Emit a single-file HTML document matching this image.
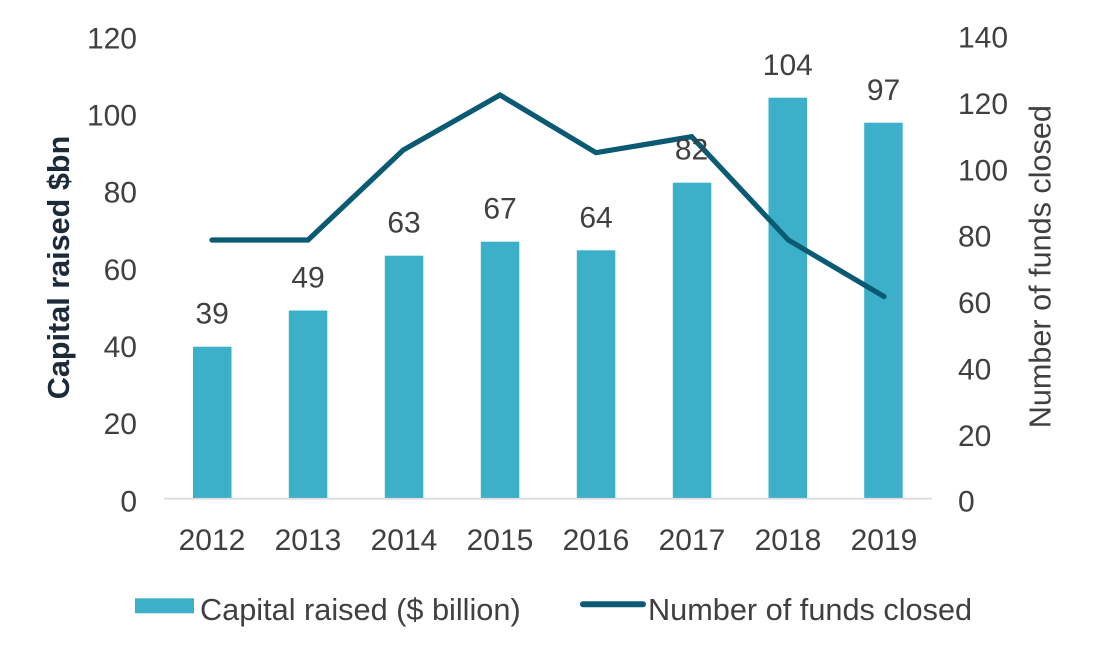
<!DOCTYPE html>
<html>
<head>
<meta charset="utf-8">
<style>
  html,body{margin:0;padding:0;background:#ffffff;}
  svg{display:block;}
  text{font-family:"Liberation Sans", Arial, sans-serif;}
</style>
</head>
<body>
<svg width="1093" height="648" viewBox="0 0 1093 648" xmlns="http://www.w3.org/2000/svg">
  <rect x="0" y="0" width="1093" height="648" fill="#ffffff"/>

  <!-- Left axis tick labels -->
  <g font-size="30" fill="#404040" text-anchor="end">
    <text x="137" y="48.5">120</text>
    <text x="137" y="125.6">100</text>
    <text x="137" y="202.7">80</text>
    <text x="137" y="279.8">60</text>
    <text x="137" y="356.9">40</text>
    <text x="137" y="434">20</text>
    <text x="137" y="511.5">0</text>
  </g>

  <!-- Right axis tick labels -->
  <g font-size="30" fill="#404040" text-anchor="start">
    <text x="958" y="47.5">140</text>
    <text x="958" y="113.9">120</text>
    <text x="958" y="180.3">100</text>
    <text x="958" y="246.7">80</text>
    <text x="958" y="313.1">60</text>
    <text x="958" y="379.5">40</text>
    <text x="958" y="445.9">20</text>
    <text x="958" y="511.5">0</text>
  </g>

  <!-- Axis titles -->
  <text transform="translate(69,267.5) rotate(-90)" text-anchor="middle" font-size="30.6" font-weight="bold" fill="#1c2a3a">Capital raised $bn</text>
  <text transform="translate(1050.5,266.7) rotate(-90)" text-anchor="middle" font-size="30.6" fill="#404040">Number of funds closed</text>

  <!-- Bars -->
  <g fill="#3cb0c9">
    <rect x="193" y="346.7" width="38.5" height="152"/>
    <rect x="288.8" y="310.5" width="38.5" height="188.2"/>
    <rect x="384.8" y="255.7" width="38.5" height="243"/>
    <rect x="480.8" y="241.7" width="38.5" height="257"/>
    <rect x="576.8" y="250.3" width="38.5" height="248.4"/>
    <rect x="672.8" y="182.7" width="38.5" height="316"/>
    <rect x="768.5" y="97.7" width="38.5" height="401"/>
    <rect x="864.2" y="122.7" width="38.5" height="376"/>
  </g>

  <!-- X axis line -->
  <line x1="164" y1="498.7" x2="932" y2="498.7" stroke="#d9d9d9" stroke-width="1.6"/>

  <!-- Line series -->
  <polyline points="212,240 308,240 403.3,150 500,95 596,152.7 691.7,136.7 788.3,240 884,296.5"
            fill="none" stroke="#0b5a73" stroke-width="5.2" stroke-linejoin="miter" stroke-linecap="round"/>

  <!-- Data labels -->
  <g font-size="30" fill="#404040" text-anchor="middle">
    <text x="212.2" y="323.7">39</text>
    <text x="308" y="287.5">49</text>
    <text x="404" y="232.7">63</text>
    <text x="500" y="218.7">67</text>
    <text x="596" y="227.3">64</text>
    <text x="691.5" y="159.5">82</text>
    <text x="787.8" y="75">104</text>
    <text x="883.5" y="100">97</text>
  </g>

  <!-- X axis labels -->
  <g font-size="30" fill="#404040" text-anchor="middle">
    <text x="212" y="550">2012</text>
    <text x="308" y="550">2013</text>
    <text x="404" y="550">2014</text>
    <text x="500" y="550">2015</text>
    <text x="596" y="550">2016</text>
    <text x="692" y="550">2017</text>
    <text x="788" y="550">2018</text>
    <text x="884" y="550">2019</text>
  </g>

  <!-- Legend -->
  <rect x="135" y="598.3" width="59" height="15" fill="#3cb0c9"/>
  <text x="200" y="620" font-size="30.7" fill="#404040">Capital raised ($ billion)</text>
  <line x1="583" y1="604.3" x2="643" y2="604.3" stroke="#0b5a73" stroke-width="6" stroke-linecap="round"/>
  <text x="648" y="620" font-size="30.7" fill="#404040">Number of funds closed</text>
</svg>
</body>
</html>
